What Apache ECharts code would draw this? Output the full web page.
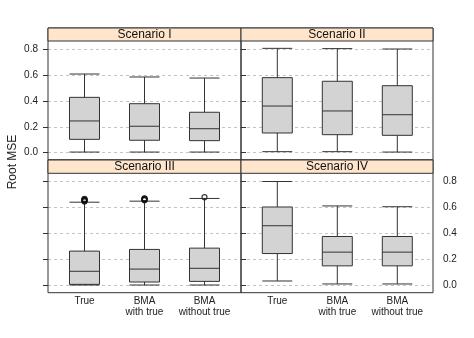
<!DOCTYPE html>
<html>
<head>
<meta charset="utf-8">
<script src="https://cdn.jsdelivr.net/npm/echarts/dist/echarts.min.js"></script>
<style>
  html, body { margin: 0; padding: 0; background: #ffffff; }
  #chart { width: 474px; height: 338px; }
</style>
</head>
<body>
<div id="chart"></div>
<script>
// Methods compared in every scenario
const categories = ['True', 'BMA\nwith true', 'BMA\nwithout true'];
const scenarios = ['Scenario I', 'Scenario II', 'Scenario III', 'Scenario IV'];
const yTicks = [0, 0.2, 0.4, 0.6, 0.8];

// Box summaries per method: [lower whisker, Q1, median, Q3, upper whisker]
const scenarioI = [
  [0.005, 0.103, 0.245, 0.427, 0.607],
  [0.005, 0.096, 0.204, 0.378, 0.584],
  [0.005, 0.093, 0.185, 0.312, 0.576]
];
const scenarioII = [
  [0.008, 0.152, 0.360, 0.579, 0.805],
  [0.008, 0.139, 0.322, 0.551, 0.803],
  [0.005, 0.134, 0.293, 0.517, 0.800]
];
const scenarioIII = [
  [0.000, 0.005, 0.106, 0.262, 0.640],
  [0.000, 0.023, 0.123, 0.275, 0.648],
  [0.000, 0.028, 0.129, 0.285, 0.669]
];
const scenarioIV = [
  [0.031, 0.243, 0.458, 0.603, 0.800],
  [0.008, 0.148, 0.254, 0.375, 0.611],
  [0.008, 0.148, 0.254, 0.375, 0.605]
];

// Outlying values beyond the whiskers: [method index, value]
const outliersI = [];
const outliersII = [];
const outliersIII = [
  [0, 0.646], [0, 0.650], [0, 0.653], [0, 0.656], [0, 0.659], [0, 0.662], [0, 0.665],
  [1, 0.655], [1, 0.658], [1, 0.661], [1, 0.664], [1, 0.667], [1, 0.670],
  [2, 0.679]
];
const outliersIV = [];

const boxData = [scenarioI, scenarioII, scenarioIII, scenarioIV];
const outlierData = [outliersI, outliersII, outliersIII, outliersIV];

// Panel geometry (lattice-style 2 x 2 layout)
const panels = [
  { x0: 48,  x1: 241, stripTop: 28,  plotTop: 41,    plotBottom: 160,   yZero: 152.7, yTop: 49.0,  side: 'left',  yLabels: true,  xLabels: false, boxLeft: 54.5 },
  { x0: 241, x1: 433, stripTop: 28,  plotTop: 41,    plotBottom: 160,   yZero: 152.7, yTop: 49.0,  side: 'right', yLabels: false, xLabels: false, boxLeft: 247.3 },
  { x0: 48,  x1: 241, stripTop: 160, plotTop: 173.3, plotBottom: 292.7, yZero: 285.0, yTop: 181.5, side: 'left',  yLabels: false, xLabels: true,  boxLeft: 54.5 },
  { x0: 241, x1: 433, stripTop: 160, plotTop: 173.3, plotBottom: 292.7, yZero: 285.0, yTop: 181.5, side: 'right', yLabels: true,  xLabels: true,  boxLeft: 247.3 }
];
const bandSpan = 180;
const font = 'Liberation Sans, Arial, Helvetica, sans-serif';
const ink = '#333333';

const grid = [], xAxis = [], yAxis = [], series = [], graphic = [];

panels.forEach((p, i) => {
  const h = p.yZero - p.yTop;
  // frame grid: reference lines and y ticks across the full panel width
  grid.push({ left: p.x0, top: p.yTop, width: p.x1 - p.x0, height: h });
  xAxis.push({ type: 'value', gridIndex: 2 * i, min: 0, max: 1, show: false });
  yAxis.push({
    type: 'value', gridIndex: 2 * i, min: 0, max: 0.8, interval: 0.2,
    position: p.side,
    axisLine: { show: false },
    axisTick: { show: true, inside: false, length: 5, lineStyle: { color: ink, width: 1 } },
    axisLabel: {
      show: p.yLabels, margin: 10, fontSize: 10, fontFamily: font, color: '#222',
      formatter: v => yTicks.includes(Math.round(v * 10) / 10) ? v.toFixed(1) : ''
    },
    splitLine: { show: true, lineStyle: { color: '#c4c4c4', type: [3, 3], width: 1 } }
  });
  // box grid: three method bands
  grid.push({ left: p.boxLeft, top: p.yTop, width: bandSpan, height: h });
  xAxis.push({
    type: 'category', gridIndex: 2 * i + 1, data: categories, boundaryGap: true,
    axisLine: { show: false }, axisTick: { show: false }, splitLine: { show: false },
    axisLabel: {
      show: p.xLabels, interval: 0, margin: 11, fontSize: 10, lineHeight: 11,
      fontFamily: font, color: '#222'
    }
  });
  yAxis.push({ type: 'value', gridIndex: 2 * i + 1, min: 0, max: 0.8, show: false });

  series.push({
    type: 'boxplot', xAxisIndex: 2 * i + 1, yAxisIndex: 2 * i + 1,
    data: boxData[i], boxWidth: [30, 30],
    itemStyle: { color: '#d3d3d3', borderColor: ink, borderWidth: 1 },
    emphasis: { disabled: true }, silent: true, z: 3
  });
  if (outlierData[i].length) {
    series.push({
      type: 'scatter', xAxisIndex: 2 * i + 1, yAxisIndex: 2 * i + 1,
      data: outlierData[i], symbol: 'circle', symbolSize: 5,
      itemStyle: { color: 'rgba(0,0,0,0)', borderColor: '#111', borderWidth: 1.2 },
      emphasis: { disabled: true }, silent: true, z: 4
    });
  }

  // panel border, strip and strip title
  graphic.push({
    type: 'rect', z: 10, silent: true,
    shape: { x: p.x0, y: p.stripTop, width: p.x1 - p.x0, height: p.plotBottom - p.stripTop },
    style: { fill: 'none', stroke: ink, lineWidth: 1 }
  });
  graphic.push({
    type: 'rect', z: 11, silent: true,
    shape: { x: p.x0, y: p.stripTop, width: p.x1 - p.x0, height: p.plotTop - p.stripTop },
    style: { fill: '#ffe5cc', stroke: ink, lineWidth: 1 }
  });
  graphic.push({
    type: 'text', z: 12, silent: true,
    x: (p.x0 + p.x1) / 2, y: (p.stripTop + p.plotTop) / 2 + 0.5,
    style: { text: scenarios[i], fontSize: 12, fontFamily: font, fill: '#111', align: 'center', verticalAlign: 'middle' }
  });
});

graphic.push({
  type: 'text', silent: true, x: 13, y: 162, rotation: Math.PI / 2,
  style: { text: 'Root MSE', fontSize: 12, fontFamily: font, fill: '#222', align: 'center', verticalAlign: 'middle' }
});

const chart = echarts.init(document.getElementById('chart'), null, { renderer: 'canvas' });
chart.setOption({
  animation: false,
  backgroundColor: '#ffffff',
  grid, xAxis, yAxis, series, graphic
});
</script>
</body>
</html>
